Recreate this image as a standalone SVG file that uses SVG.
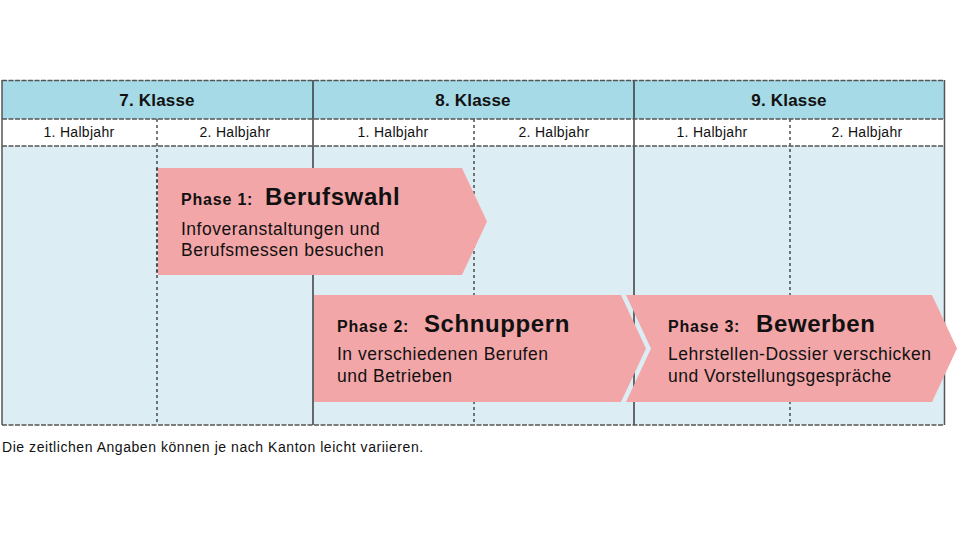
<svg xmlns="http://www.w3.org/2000/svg" width="960" height="540" viewBox="0 0 960 540">
<style>
.hdr{fill:#a6dae6}
.sub{fill:#ffffff}
.body{fill:#dcedf3}
.hline{stroke:#555;stroke-width:1.5;stroke-dasharray:5 1.5;fill:none}
.vsolid{stroke:#222;stroke-width:1.3;fill:none}
.vdash{stroke:#333;stroke-width:1.3;stroke-dasharray:3 3;fill:none}
.kl{font-family:"Liberation Sans",Arial,sans-serif;font-weight:bold;font-size:17px;letter-spacing:0.2px;fill:#111;text-anchor:middle}
.hj{font-family:"Liberation Sans",Arial,sans-serif;font-size:14px;letter-spacing:0.3px;fill:#111;text-anchor:middle}
.arrow{fill:#f3a6a8}
.ph{font-family:"Liberation Sans",Arial,sans-serif;font-weight:bold;font-size:16px;letter-spacing:0.8px;fill:#111}
.pt{font-family:"Liberation Sans",Arial,sans-serif;font-weight:bold;font-size:24px;letter-spacing:0.6px;fill:#111}
.pd{font-family:"Liberation Sans",Arial,sans-serif;font-size:17.5px;letter-spacing:0.5px;fill:#111}
.note{font-family:"Liberation Sans",Arial,sans-serif;font-size:14px;letter-spacing:0.55px;fill:#111}
</style>
<rect width="960" height="540" fill="#ffffff"/>
<g id="table">
<rect class="hdr" x="2" y="80" width="942" height="39"/>
<rect class="sub" x="2" y="119" width="942" height="27"/>
<rect class="body" x="2" y="146" width="942" height="279"/>
<line class="vdash" x1="157" y1="119" x2="157" y2="425"/>
<line class="vdash" x1="474" y1="119" x2="474" y2="425"/>
<line class="vdash" x1="790" y1="119" x2="790" y2="425"/>
<line class="vsolid" x1="313" y1="80" x2="313" y2="425"/>
<line class="vsolid" x1="634" y1="80" x2="634" y2="425"/>
<line class="hline" x1="2" y1="80.5" x2="944" y2="80.5"/>
<line class="hline" x1="2" y1="119" x2="944" y2="119"/>
<line class="hline" x1="2" y1="146" x2="944" y2="146"/>
<line class="hline" x1="2" y1="425" x2="944" y2="425"/>
<line x1="2" y1="80" x2="2" y2="425" stroke="#555" stroke-width="1.5"/>
<line x1="944.5" y1="80" x2="944.5" y2="425" stroke="#555" stroke-width="1.5"/>
<text class="kl" x="157" y="106">7. Klasse</text>
<text class="kl" x="473" y="106">8. Klasse</text>
<text class="kl" x="789" y="106">9. Klasse</text>
<text class="hj" x="79" y="137">1. Halbjahr</text>
<text class="hj" x="235" y="137">2. Halbjahr</text>
<text class="hj" x="393" y="137">1. Halbjahr</text>
<text class="hj" x="554" y="137">2. Halbjahr</text>
<text class="hj" x="712" y="137">1. Halbjahr</text>
<text class="hj" x="867" y="137">2. Halbjahr</text>
</g>
<g id="phase1">
<polygon class="arrow" points="158,168 462,168 487,221.5 462,275 158,275"/>
<line class="vdash" x1="157" y1="168" x2="157" y2="275"/>
<text class="ph" x="181" y="205">Phase 1:</text>
<text class="pt" x="265" y="205">Berufswahl</text>
<text class="pd" x="181" y="235">Infoveranstaltungen und</text>
<text class="pd" x="181" y="256">Berufsmessen besuchen</text>
</g>
<g id="phase2">
<polygon class="arrow" points="314,295 621,295 646,348.5 621,402 314,402"/>
<text class="ph" x="337" y="332">Phase 2:</text>
<text class="pt" x="424" y="332">Schnuppern</text>
<text class="pd" x="337" y="360">In verschiedenen Berufen</text>
<text class="pd" x="337" y="382">und Betrieben</text>
</g>
<g id="phase3">
<polygon class="arrow" points="626,295 932,295 957,348.5 932,402 626,402 651,348.5"/>
<text class="ph" x="668" y="332">Phase 3:</text>
<text class="pt" x="756" y="332">Bewerben</text>
<text class="pd" x="668" y="360">Lehrstellen-Dossier verschicken</text>
<text class="pd" x="668" y="382">und Vorstellungsgespräche</text>
</g>
<g id="connectors"></g>
<text class="note" x="2" y="452">Die zeitlichen Angaben können je nach Kanton leicht variieren.</text>
</svg>
